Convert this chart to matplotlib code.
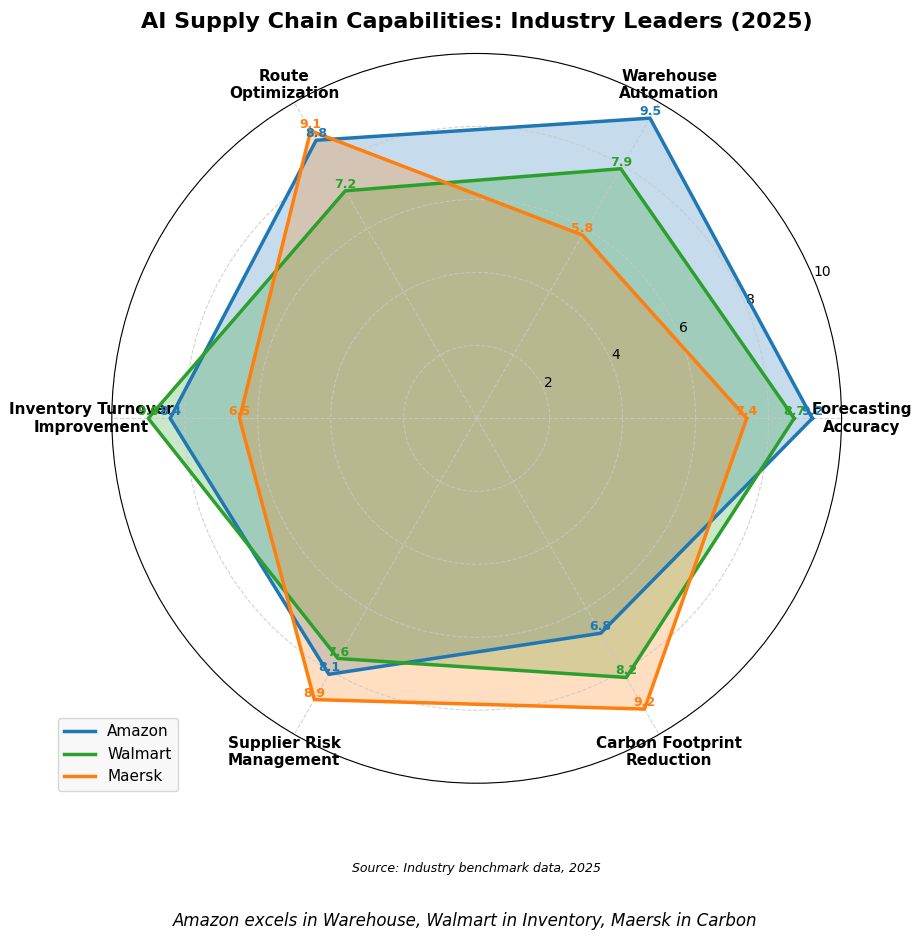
import numpy as np
import matplotlib.pyplot as plt

# ------------------------------------------------------
# DADOS
# ------------------------------------------------------
categories = ["Forecasting\nAccuracy", "Warehouse\nAutomation", "Route\nOptimization",
              "Inventory Turnover\nImprovement", "Supplier Risk\nManagement",
              "Carbon Footprint\nReduction"]
companies = ["Amazon", "Walmart", "Maersk"]
amazon = [9.2, 9.5, 8.8, 8.4, 8.1, 6.8]
walmart = [8.7, 7.9, 7.2, 9.0, 7.6, 8.2]
maersk = [7.4, 5.8, 9.1, 6.5, 8.9, 9.2]
colors = ["#1f77b4", "#2ca02c", "#ff7f0e"]

# ------------------------------------------------------
# FIGURA
# ------------------------------------------------------
fig = plt.figure(figsize=(9.22, 9.38), dpi=100)
ax = fig.add_axes([0.121, 0.165, 0.792, 0.778], projection="polar")

n = len(categories)
angles = np.linspace(0, 2 * np.pi, n, endpoint=False)
closed = np.concatenate([angles, angles[:1]])

for name, vals, col in zip(companies, [amazon, walmart, maersk], colors):
    v = np.concatenate([vals, vals[:1]])
    ax.plot(closed, v, color=col, linewidth=2.5, label=name)
    ax.fill(closed, v, color=col, alpha=0.25)
    for a, val in zip(angles, vals):
        ax.text(a, val, f"{val}", color=col, fontsize=9, fontweight="bold",
                ha="center", va="bottom")

ax.set_ylim(0, 10)
ax.set_yticks([2, 4, 6, 8, 10])
ax.set_yticklabels(["2", "4", "6", "8", "10"], fontsize=10)
ax.set_xticks(angles)
ax.set_xticklabels(categories, fontsize=11, fontweight="bold")
ax.tick_params(axis="x", pad=4)
ax.grid(True, linestyle="--", color="#c8c8c8", alpha=0.8, linewidth=0.8)

ax.set_title("AI Supply Chain Capabilities: Industry Leaders (2025)",
             fontsize=16, fontweight="bold", pad=18)

fig.legend(loc="lower left", bbox_to_anchor=(0.055, 0.149), fontsize=11,
           facecolor="#f7f7f7")

fig.text(0.517, 0.07, "Source: Industry benchmark data, 2025", ha="center",
         fontsize=9, style="italic")
fig.text(0.504, 0.013, "Amazon excels in Warehouse, Walmart in Inventory, Maersk in Carbon",
         ha="center", fontsize=12, style="italic")

fig.savefig("out.png", dpi=100)
